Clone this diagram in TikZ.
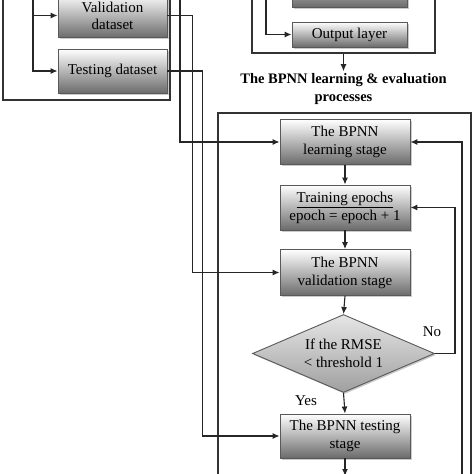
\documentclass[tikz,border=0pt]{standalone}
\usepackage{fontspec}
\setmainfont{Liberation Serif}
\usetikzlibrary{shapes.geometric,arrows.meta,shadows}
\tikzset{
  line/.style={draw=black!85, line width=1.1pt},
  arr/.style={line, -{Latex[length=7pt,width=6pt]}},
  container/.style={draw=black!80, line width=1.1pt, fill=none},
  procbox/.style={draw=black!65, line width=0.9pt, top color=white, bottom color=black!58,
    minimum width=130pt, minimum height=45pt, align=center, inner sep=1pt,
    font=\fontsize{15}{18}\selectfont,
    drop shadow={shadow xshift=1.5pt, shadow yshift=-1.5pt, fill=black!35, opacity=0.6}},
  decbox/.style={diamond, aspect=2.3, draw=black!65, line width=0.9pt, top color=gray!20, bottom color=gray!75,
    minimum width=182pt, minimum height=78pt, inner sep=0pt, align=center,
    font=\fontsize{15}{18}\selectfont,
    drop shadow={shadow xshift=1.5pt, shadow yshift=-1.5pt, fill=black!35, opacity=0.6}},
  lbl/.style={font=\fontsize{15}{18}\selectfont, inner sep=0pt},
}
\begin{document}
\begin{tikzpicture}[x=1pt,y=-1pt]
\useasboundingbox (0,0) rectangle (474,474);
\clip (0,0) rectangle (474,474);
% containers
\node[container, minimum width=167pt, minimum height=160pt, inner sep=0pt] (leftbox) at (86.5,20) {};
\node[container, minimum width=183pt, minimum height=113pt, inner sep=0pt] (topbox) at (343.5,-3.5) {};
\node[container, minimum width=253pt, minimum height=420pt, inner sep=0pt] (lowbox) at (344.5,323) {};
% left datasets
\node[procbox, minimum width=109pt, minimum height=44pt, font=\fontsize{15}{17}\selectfont] (valid) at (112.5,15.5) {Validation\\dataset};
\node[procbox, minimum width=109pt, minimum height=44pt] (test) at (112.5,71) {Testing dataset};
\coordinate (split) at (33,-60);
\draw[arr] (split) |- (valid.west);
\draw[arr] (split) |- (test.west);
% top right
\node[procbox, minimum width=115pt, minimum height=40pt] (hidden) at (349.5,-13) {};
\node[procbox, minimum width=115pt, minimum height=25pt] (output) at (349.5,34.5) {Output layer};
\coordinate (hidin) at (266,-60);
\draw[arr] (hidin) |- (output.west);
% title
\node[align=center, font=\fontsize{14.5}{18}\selectfont\bfseries, inner sep=0pt] (title) at (343.5,89)
  {The BPNN learning \& evaluation\\processes};
\draw[arr] (title.north |- topbox.south) -- ([yshift=2pt]title.north);
% process
\node[procbox] (learn) at (345,142) {The BPNN\\learning stage};
\node[procbox] (epoch) at (345,207.5) {\underline{Training epochs}\\epoch = epoch + 1};
\node[procbox, minimum height=46pt] (valstage) at (345,272.5) {The BPNN\\validation stage};
\node[decbox] (dec) at (343.5,353.5) {If the RMSE\\\textless{} threshold 1};
\node[procbox, minimum height=44pt] (teststage) at (345,436) {The BPNN testing\\stage};
\draw[arr] (learn) -- (epoch);
\draw[arr] (epoch) -- (valstage);
\draw[arr] (valstage.south) -- (dec.north);
\draw[arr] (dec.south) -- (teststage.north);
\node[lbl] (yes) at (306,401) {Yes};
\node[lbl] (no) at (432,332) {No};
\draw[arr] (dec.east) -- (455,353.5) |- (epoch.east);
\coordinate (loopin) at (462,520);
\draw[arr] (loopin) |- (learn.east);
\coordinate (nextdown) at (345,476);
\draw[arr] (teststage.south) -- (nextdown);
% dataset feeds
\coordinate (trainout) at (180,-60);
\draw[arr] (trainout) |- (learn.west);
\draw[arr] (valid.east) -- ++(25,0) |- (valstage.west);
\draw[arr] (test.east) -- ++(35,0) |- (teststage.west);
\end{tikzpicture}
\end{document}
